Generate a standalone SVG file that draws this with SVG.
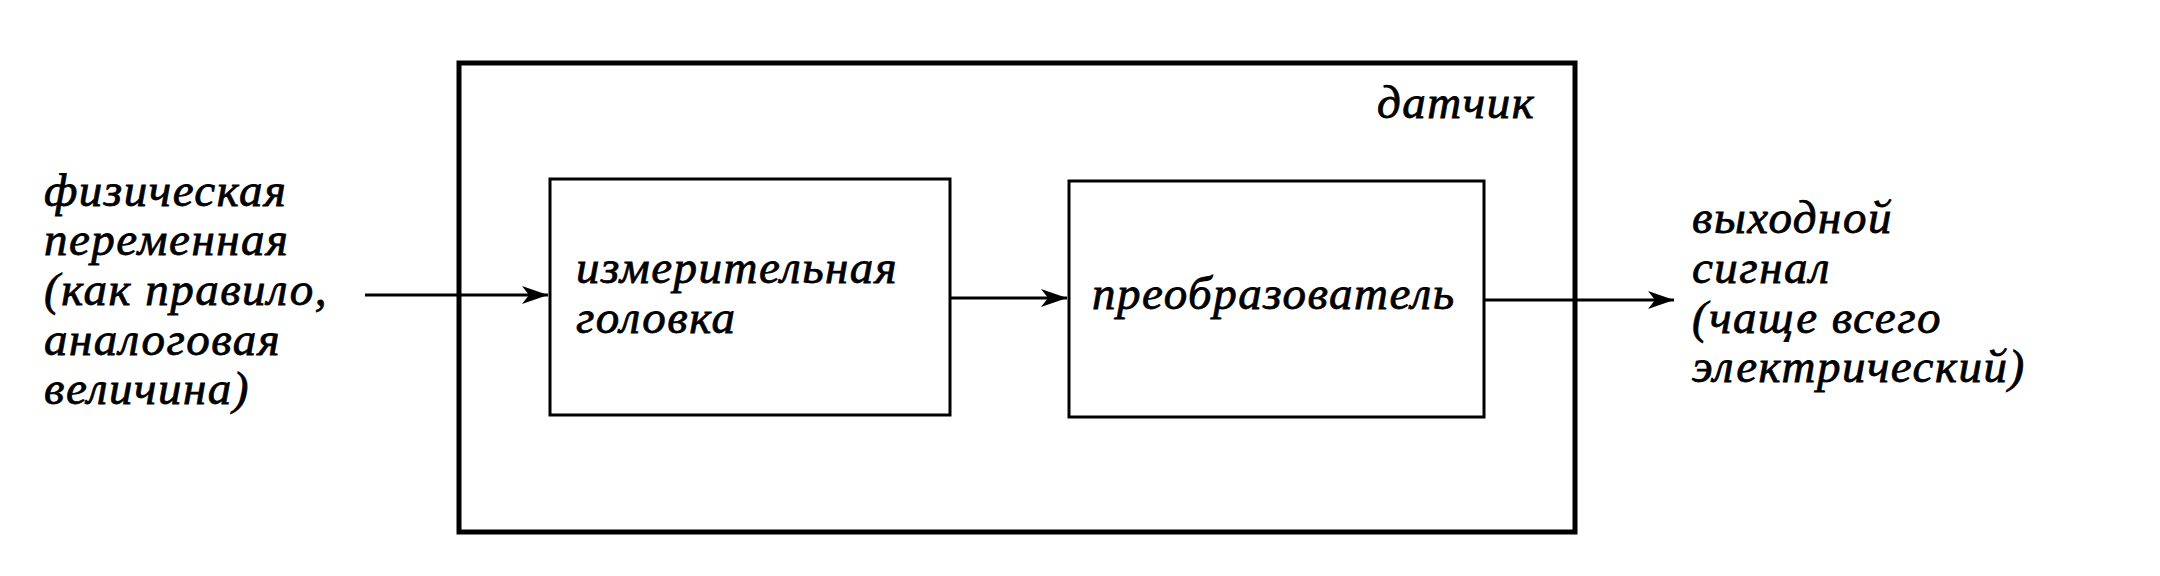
<svg xmlns="http://www.w3.org/2000/svg" width="2160" height="576" viewBox="0 0 2160 576">
<style>
.t{font-family:"Liberation Serif","DejaVu Serif",serif;font-style:italic;font-size:47px;letter-spacing:1.5px;fill:#000;stroke:#000;stroke-width:0.8}
.box{fill:none;stroke:#000}
.c{stroke:#000;stroke-width:3;fill:none}
</style>
<defs>
<marker id="ah" markerUnits="userSpaceOnUse" markerWidth="32" markerHeight="22" refX="26" refY="11" orient="auto">
<path d="M0,2 L26,11 L0,20 L7,11 Z" fill="#000"/>
</marker>
</defs>
<rect width="2160" height="576" fill="#fff"/>
<g id="sensor">
<rect class="box" x="459" y="63" width="1116" height="469" stroke-width="5"/>
<text class="t" x="1377" y="118">датчик</text>
</g>
<g id="head">
<rect class="box" x="550" y="179" width="400" height="236" stroke-width="3"/>
<text class="t" x="576" y="283">измерительная</text>
<text class="t" x="576" y="333">головка</text>
</g>
<g id="converter">
<rect class="box" x="1069" y="181" width="415" height="236" stroke-width="3"/>
<text class="t" x="1092" y="309">преобразователь</text>
</g>
<g id="input">
<text class="t" x="44" y="206">физическая</text>
<text class="t" x="44" y="255">переменная</text>
<text class="t" x="44" y="305">(как правило,</text>
<text class="t" x="44" y="355">аналоговая</text>
<text class="t" x="44" y="404">величина)</text>
</g>
<g id="output">
<text class="t" x="1692" y="233">выходной</text>
<text class="t" x="1692" y="283">сигнал</text>
<text class="t" x="1692" y="333">(чаще всего</text>
<text class="t" x="1692" y="382">электрический)</text>
</g>
<g id="connectors">
<line class="c" x1="365" y1="295" x2="548" y2="295" marker-end="url(#ah)"/>
<line class="c" x1="950" y1="298" x2="1067" y2="298" marker-end="url(#ah)"/>
<line class="c" x1="1484" y1="300" x2="1674" y2="300" marker-end="url(#ah)"/>
</g>
</svg>
